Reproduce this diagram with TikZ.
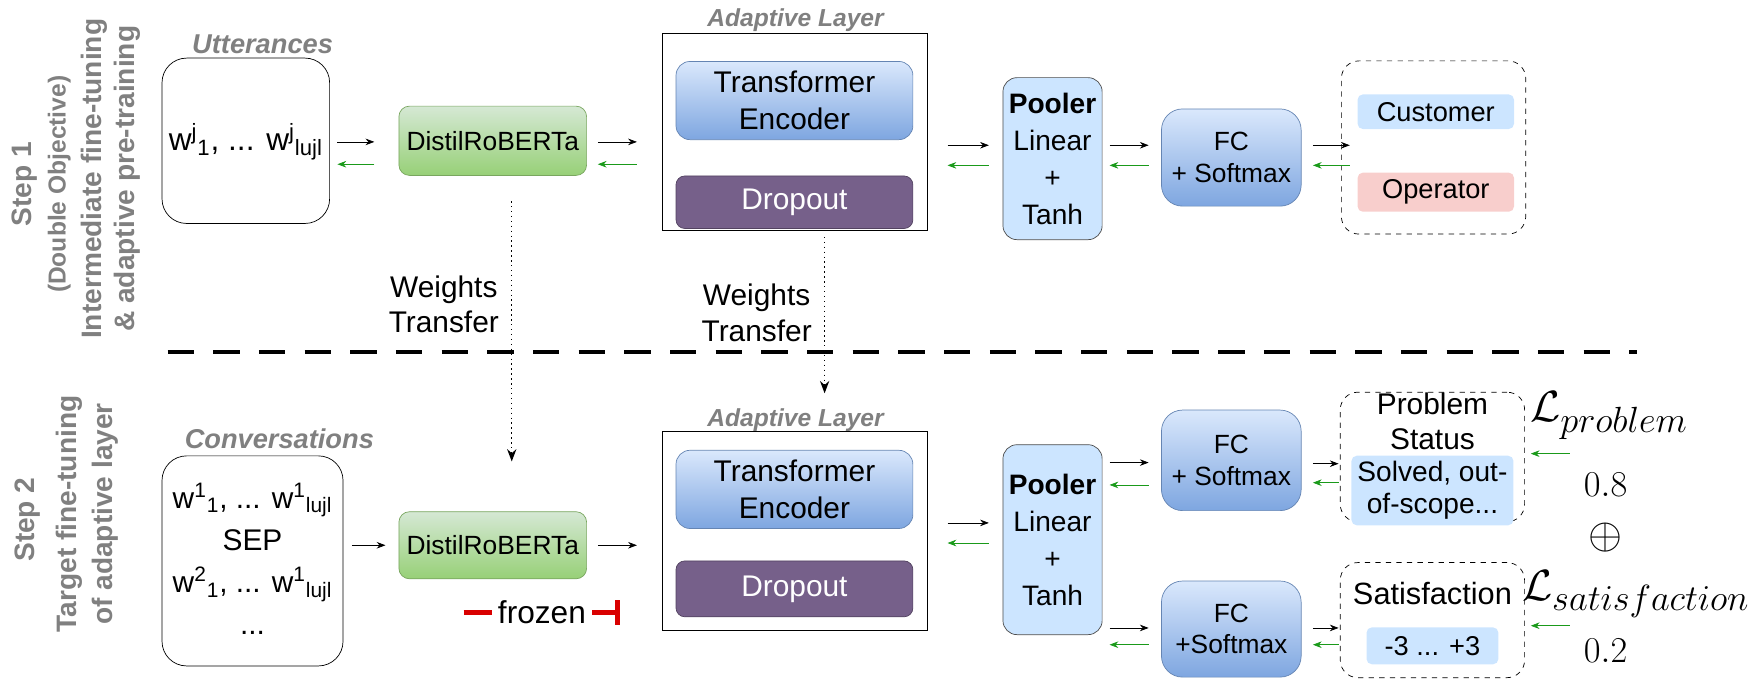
\documentclass[tikz,border=0pt]{standalone}
\usepackage{fontspec}
\setmainfont{Liberation Sans}
\usetikzlibrary{arrows.meta}
\definecolor{gtxt}{HTML}{808080}
\definecolor{gtop}{HTML}{D5E8D4}
\definecolor{gbot}{HTML}{97D077}
\definecolor{btop}{HTML}{DAE8FC}
\definecolor{bbot}{HTML}{7EA6E0}
\definecolor{purp}{HTML}{76608A}
\definecolor{lblue}{HTML}{CCE5FF}
\definecolor{pink}{HTML}{F8CECC}
\definecolor{arrg}{HTML}{1A9A1A}
\def\pu{0.02235cm}
\tikzset{x=\pu,y=-\pu,
 lab/.style={font=\fontsize{15.5}{18}\selectfont\bfseries\itshape,text=gtxt},
 stepl/.style={font=\fontsize{16}{19}\selectfont\bfseries,text=gtxt,rotate=90,align=center},
 distil/.style={draw=gbot!80!black,rounded corners=6pt,top color=gtop,bottom color=gbot,font=\fontsize{15}{18}\selectfont},
 enc/.style={draw=bbot!80!black,rounded corners=8pt,top color=btop,bottom color=bbot,font=\fontsize{17}{21}\selectfont,align=center},
 drop/.style={draw=purp!70!black,rounded corners=5pt,fill=purp,text=white,font=\fontsize{17}{20}\selectfont},
 pool/.style={draw=black!70,rounded corners=8pt,fill=lblue,font=\fontsize{16}{21}\selectfont,align=center},
 fc/.style={draw=bbot!80!black,rounded corners=12pt,top color=btop,bottom color=bbot,font=\fontsize{15}{18}\selectfont,align=center},
 outb/.style={draw,dashed,rounded corners=10pt},
 tag/.style={rounded corners=3pt,font=\fontsize{15.5}{18}\selectfont,align=center},
 fa/.style={-{Stealth[length=5pt]},thin},
 ba/.style={-{Stealth[length=5pt]},thin,arrg},
 txt/.style={font=\fontsize{17}{20}\selectfont,align=center}}
\begin{document}
\begin{tikzpicture}
\useasboundingbox (0,0) rectangle (1568,614);
% step labels
\node[stepl] (s1a) at (22,165) {Step 1};
\node[stepl,font=\fontsize{14}{17}\selectfont\bfseries] (s1b) at (53,165) {(Double Objective)};
\node[stepl] (s1c) at (84,160) {Intermediate fine-tuning};
\node[stepl] (s1d) at (114,160) {\& adaptive pre-training};
\node[stepl] (s2a) at (25,465) {Step 2};
\node[stepl] (s2b) at (62,460) {Target fine-tuning};
\node[stepl] (s2c) at (94,460) {of adaptive layer};
% top row
\node[lab] (ul) at (235,40) {Utterances};
\draw[rounded corners=14pt] (145,52) rectangle (295,200);
\node[txt,font=\fontsize{18}{20}\selectfont] (utxt) at (220,127) {w\textsuperscript{j}\textsubscript{1}, ... w\textsuperscript{j}\textsubscript{lujl}};
\node[distil,minimum width=168*\pu,minimum height=62*\pu] (d1) at (441,126) {DistilRoBERTa};
\node[lab,font=\fontsize{14}{17}\selectfont\bfseries\itshape] (al1) at (712,18) {Adaptive Layer};
\node[draw,minimum width=237*\pu,minimum height=177*\pu] (a1) at (711,118) {};
\node[enc,minimum width=212*\pu,minimum height=70*\pu] (te1) at (711,90) {Transformer\\Encoder};
\node[drop,minimum width=212*\pu,minimum height=47*\pu] (dr1) at (711,181) {Dropout};
\node[pool,minimum width=85*\pu,minimum height=145*\pu] (p1) at (942,142) {\textbf{Pooler}\\Linear\\+\\Tanh};
\node[fc,minimum width=125*\pu,minimum height=87*\pu] (f1) at (1102,141) {FC\\+ Softmax};
\node[outb,minimum width=165*\pu,minimum height=155*\pu] (o1) at (1283,132) {};
\node[tag,fill=lblue,minimum width=140*\pu,minimum height=31*\pu] (cu) at (1285,100) {Customer};
\node[tag,fill=pink,minimum width=140*\pu,minimum height=35*\pu] (op) at (1285,172) {Operator};
% top arrows
\coordinate (ua1) at (302,127); \coordinate (ua2) at (335,127);
\coordinate (ub1) at (302,147); \coordinate (ub2) at (335,147);
\draw[fa] (ua1) -- (ua2); \draw[ba] (ub2) -- (ub1);
\coordinate (da1) at (535,127); \coordinate (da2) at (570,127);
\coordinate (db1) at (535,147); \coordinate (db2) at (570,147);
\draw[fa] (da1) -- (da2); \draw[ba] (db2) -- (db1);
\coordinate (aa1) at (848,130); \coordinate (aa2) at (885,130);
\coordinate (ab1) at (848,148); \coordinate (ab2) at (885,148);
\draw[fa] (aa1) -- (aa2); \draw[ba] (ab2) -- (ab1);
\coordinate (pa1) at (993,130); \coordinate (pa2) at (1028,130);
\coordinate (pb1) at (993,148); \coordinate (pb2) at (1028,148);
\draw[fa] (pa1) -- (pa2); \draw[ba] (pb2) -- (pb1);
\coordinate (fa1) at (1175,130); \coordinate (fa2) at (1208,130);
\coordinate (fb1) at (1175,148); \coordinate (fb2) at (1208,148);
\draw[fa] (fa1) -- (fa2); \draw[ba] (fb2) -- (fb1);
% divider
\coordinate (dl1) at (150,315); \coordinate (dl2) at (1465,315);
\draw[line width=2.8pt,dash pattern=on 15pt off 11pt] (dl1) -- (dl2);
% bottom row
\node[lab] (cl) at (250,393) {Conversations};
\draw[rounded corners=14pt] (145,408) rectangle (307,596);
\node[txt,font=\fontsize{17}{24}\selectfont] (ctxt) at (226,500) {w\textsuperscript{1}\textsubscript{1}, ... w\textsuperscript{1}\textsubscript{lujl}\\SEP\\w\textsuperscript{2}\textsubscript{1}, ... w\textsuperscript{1}\textsubscript{lujl}\\...};
\node[distil,minimum width=168*\pu,minimum height=60*\pu] (d2) at (441,488) {DistilRoBERTa};
\node[txt,font=\fontsize{18}{20}\selectfont] (fr) at (485,548) {frozen};
\draw[red!85!black,line width=3pt] (415,548) -- (fr.west);
\draw[red!85!black,line width=3pt,-{Bar[width=14pt]}] (fr.east) -- (555,548);
\node[lab,font=\fontsize{14}{17}\selectfont\bfseries\itshape] (al2) at (712,376) {Adaptive Layer};
\node[draw,minimum width=237*\pu,minimum height=178*\pu] (a2) at (711,475) {};
\node[enc,minimum width=212*\pu,minimum height=70*\pu] (te2) at (711,438) {Transformer\\Encoder};
\node[drop,minimum width=212*\pu,minimum height=50*\pu] (dr2) at (711,527) {Dropout};
\node[pool,minimum width=85*\pu,minimum height=170*\pu] (p2) at (942,483) {\textbf{Pooler}\\Linear\\+\\Tanh};
\node[fc,minimum width=125*\pu,minimum height=90*\pu] (f2) at (1102,412) {FC\\+ Softmax};
\node[fc,minimum width=125*\pu,minimum height=86*\pu] (f3) at (1102,563) {FC\\+Softmax};
\node[outb,minimum width=165*\pu,minimum height=116*\pu] (o2) at (1282,409) {};
\node[txt] (ps) at (1282,377) {Problem\\Status};
\node[tag,fill=lblue,minimum width=145*\pu,minimum height=50*\pu,font=\fontsize{16}{18}\selectfont] (sv) at (1282,439) {Solved, out-\\of-scope...};
\node[outb,minimum width=165*\pu,minimum height=103*\pu] (o3) at (1282,555) {};
\node[txt,font=\fontsize{17.5}{20}\selectfont] (sa) at (1282,531) {Satisfaction};
\node[tag,fill=lblue,minimum width=118*\pu,minimum height=33*\pu] (rg) at (1282,578) {-3 ... +3};
\node[font=\fontsize{29}{32}\selectfont] (lp) at (1440,372) {$\mathcal{L}_{problem}$};
\node[font=\fontsize{22}{26}\selectfont] (w8) at (1437,434) {$0.8$};
\node[font=\fontsize{24}{28}\selectfont] (op2) at (1437,481) {$\oplus$};
\node[font=\fontsize{28}{32}\selectfont] (ls) at (1464,532) {$\mathcal{L}_{satisfaction}$};
\node[font=\fontsize{22}{26}\selectfont] (w2) at (1437,582) {$0.2$};
% bottom arrows
\coordinate (ca1) at (315,488); \coordinate (ca2) at (345,488);
\draw[fa] (ca1) -- (ca2);
\coordinate (ea1) at (535,488); \coordinate (ea2) at (570,488);
\draw[fa] (ea1) -- (ea2);
\coordinate (ga1) at (848,468); \coordinate (ga2) at (885,468);
\coordinate (gb1) at (848,486); \coordinate (gb2) at (885,486);
\draw[fa] (ga1) -- (ga2); \draw[ba] (gb2) -- (gb1);
\coordinate (ha1) at (993,414); \coordinate (ha2) at (1028,414);
\coordinate (hb1) at (993,434); \coordinate (hb2) at (1028,434);
\draw[fa] (ha1) -- (ha2); \draw[ba] (hb2) -- (hb1);
\coordinate (ia1) at (993,562); \coordinate (ia2) at (1028,562);
\coordinate (ib1) at (993,577); \coordinate (ib2) at (1028,577);
\draw[fa] (ia1) -- (ia2); \draw[ba] (ib2) -- (ib1);
\coordinate (ja1) at (1175,415); \coordinate (ja2) at (1198,415);
\coordinate (jb1) at (1175,432); \coordinate (jb2) at (1198,432);
\draw[fa] (ja1) -- (ja2); \draw[ba] (jb2) -- (jb1);
\coordinate (ka1) at (1175,562); \coordinate (ka2) at (1198,562);
\coordinate (kb1) at (1175,577); \coordinate (kb2) at (1198,577);
\draw[fa] (ka1) -- (ka2); \draw[ba] (kb2) -- (kb1);
\coordinate (lg1) at (1370,406); \coordinate (lg2) at (1405,406);
\draw[ba] (lg2) -- (lg1);
\coordinate (lh1) at (1370,560); \coordinate (lh2) at (1405,560);
\draw[ba] (lh2) -- (lh1);
% weights transfer
\coordinate (wt1s) at (458,180); \coordinate (wt1e) at (458,413);
\draw[dotted,thick,-{Stealth[length=7pt]}] (wt1s) -- (wt1e);
\node[txt,anchor=east] (wt1) at (452,272) {Weights\\Transfer};
\coordinate (wt2s) at (738,212); \coordinate (wt2e) at (738,352);
\draw[dotted,thick,-{Stealth[length=7pt]}] (wt2s) -- (wt2e);
\node[txt,anchor=east] (wt2) at (732,280) {Weights\\Transfer};
\end{tikzpicture}
\end{document}
